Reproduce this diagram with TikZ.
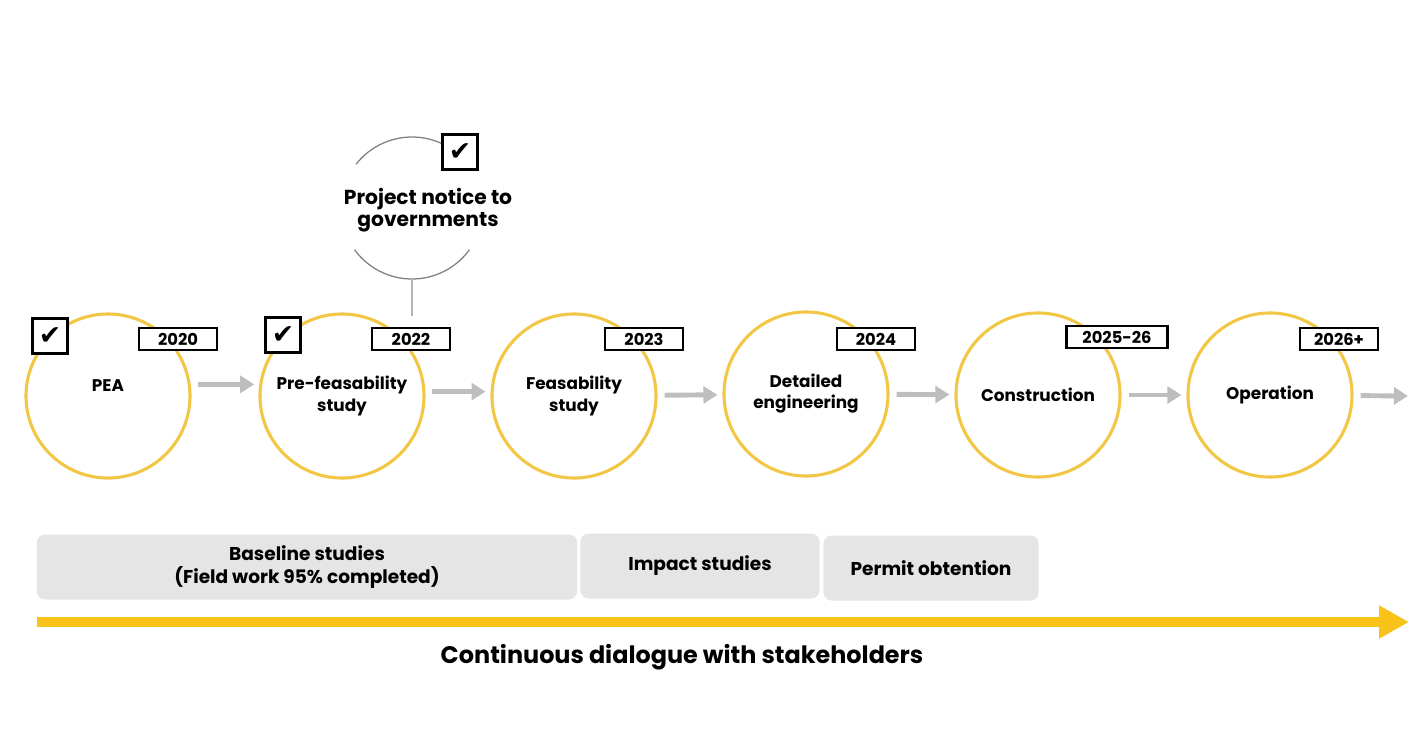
\documentclass[tikz,border=0pt]{standalone}
\usepackage{fontspec}
\setmainfont{Poppins}
\newfontfamily\symfont{DejaVu Sans}
\usetikzlibrary{arrows.meta, positioning, calc}

\definecolor{phaseyellow}{HTML}{F1C745}
\definecolor{arrowgray}{HTML}{BEBEBE}
\definecolor{barfill}{HTML}{E6E5E6}
\definecolor{dialogueyellow}{HTML}{F8C219}
\definecolor{calloutgray}{HTML}{808080}
\definecolor{leadergray}{HTML}{B5B5B5}

\begin{document}
\begin{tikzpicture}[
  x=0.025cm, y=0.025cm,
  every node/.style={font=\bfseries},
  phase/.style={circle, draw=phaseyellow, line width=2.2pt, fill=white, minimum size=4.1cm, inner sep=0pt, align=center, font=\bfseries\fontsize{12}{15}\selectfont},
  yeartag/.style={rectangle, draw=black, line width=1.5pt, fill=white, minimum width=1.95cm, minimum height=0.55cm, inner sep=0pt, font=\bfseries\fontsize{11.6}{13}\selectfont},
  checkbox/.style={rectangle, draw=black, line width=2.8pt, fill=white, minimum size=0.875cm, inner sep=0pt, font=\symfont\fontsize{19}{19}\selectfont},
  bar/.style={rectangle, fill=barfill, rounded corners=0.2cm, minimum height=1.625cm, inner sep=0pt, align=center, font=\bfseries\fontsize{13.2}{16}\selectfont},
  steparrow/.style={draw=arrowgray, line width=3.5pt, -{Triangle[length=0.35cm, width=0.42cm]}, shorten <=0.175cm, shorten >=0.125cm},
  calloutarc/.style={draw=calloutgray, line width=0.9pt},
  leader/.style={draw=leadergray, line width=0.9pt},
  dialogue/.style={draw=dialogueyellow, line width=7pt, -{Triangle[length=0.75cm, width=0.78cm]}}
]
\useasboundingbox (0,0) rectangle (1423,-746);

% Project phases
\node[phase] (pea) at (108,-396) {PEA\\\mbox{}};
\node[phase] (prefeas) at (342,-396) {Pre-feasability\\study};
\node[phase] (feas) at (574,-396) {Feasability\\study};
\node[phase] (detailed) at (806,-394) {Detailed\\engineering};
\node[phase] (construction) at (1038,-395) {Construction};
\node[phase] (operation) at (1270,-395) {Operation};
\coordinate (timelineend) at (1413,-396);

% Year tags
\node[yeartag] (y2020) at ($(pea)+(70,57)$) {2020};
\node[yeartag] (y2022) at ($(prefeas)+(69,57)$) {2022};
\node[yeartag] (y2023) at ($(feas)+(70,57)$) {2023};
\node[yeartag] (y2024) at ($(detailed)+(70,55)$) {2024};
\node[yeartag, minimum width=2.525cm] (y2025) at ($(construction)+(79,58)$) {2025-26};
\node[yeartag] (y2026) at ($(operation)+(69,56)$) {2026+};

% Arrows between phases
\draw[steparrow] (pea.8) -- (prefeas.172);
\draw[steparrow] (prefeas.3) -- (feas.177);
\draw[steparrow] (feas) -- (detailed);
\draw[steparrow] (detailed) -- (construction);
\draw[steparrow] (construction) -- (operation);
\draw[steparrow] (operation) -- (timelineend);

% Project notice callout
\coordinate (noticec) at (412,-208);
\draw[calloutarc] ($(noticec)+(142:71)$) arc[start angle=142, end angle=55, radius=71];
\draw[calloutarc] ($(noticec)+(216:71)$) arc[start angle=216, end angle=324, radius=71];
\node[font=\bfseries\fontsize{14.4}{16}\selectfont, align=center] (notice) at (428,-210) {Project notice to\\governments};
\coordinate (noticebottom) at ($(noticec)+(270:71)$);
\draw[leader] (noticebottom) -- ($(y2022.north)+(1,11)$);

% Check boxes
\node[checkbox] (checkpea) at (50,-336) {✔};
\node[checkbox] (checkprefeas) at (283,-335) {✔};
\node[checkbox] (checknotice) at (460,-152) {✔};

% Studies and permits
\node[bar, minimum width=13.5cm] (baseline) at (307,-567) {Baseline studies\\(Field work 95\% completed)};
\node[bar, minimum width=5.975cm] (impact) at (700,-566) {Impact studies};
\node[bar, minimum width=5.375cm] (permit) at (931,-568) {Permit obtention};

% Stakeholder dialogue
\coordinate (dialoguestart) at (37,-622);
\coordinate (dialogueend) at (1409,-622);
\draw[dialogue] (dialoguestart) -- (dialogueend);
\node[font=\bfseries\fontsize{17}{20}\selectfont] (dialoguelabel) at (682,-657) {Continuous dialogue with stakeholders};

\end{tikzpicture}
\end{document}
